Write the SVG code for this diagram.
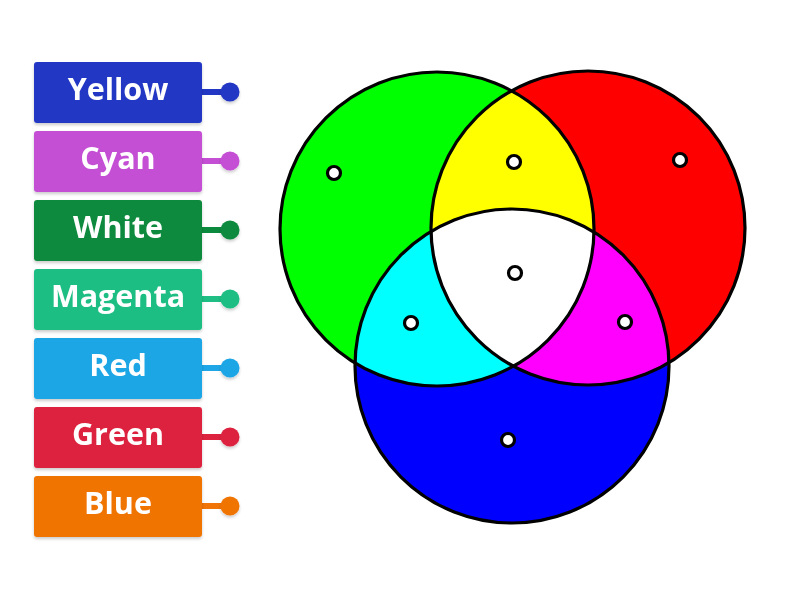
<svg xmlns="http://www.w3.org/2000/svg" width="800" height="600" viewBox="0 0 800 600">
<style>
.box{stroke:none}
.lbl{font-family:"Open Sans","Liberation Sans",sans-serif;font-weight:700;font-size:30.5px;fill:#ffffff;text-anchor:middle}
.ring{fill:none;stroke:#000;stroke-width:3.2}
.pin{fill:#fff;stroke:#000;stroke-width:3.2}
.conn line{stroke-width:6}
</style>
<defs>
<clipPath id="cg"><circle cx="437" cy="229" r="157"/></clipPath>
<clipPath id="cr"><circle cx="588" cy="228" r="157"/></clipPath>
<clipPath id="cb"><circle cx="512" cy="366" r="157"/></clipPath>
<filter id="sh" x="-10%" y="-10%" width="120%" height="130%"><feDropShadow dx="0" dy="2" stdDeviation="1.5" flood-color="#000" flood-opacity="0.2"/></filter>
</defs>
<rect width="800" height="600" fill="#fff"/>
<g id="venn">
<circle cx="437" cy="229" r="157" fill="#00ff00"/>
<circle cx="588" cy="228" r="157" fill="#ff0000"/>
<circle cx="512" cy="366" r="157" fill="#0000ff"/>
<g clip-path="url(#cg)"><circle cx="588" cy="228" r="157" fill="#ffff00"/><circle cx="512" cy="366" r="157" fill="#00ffff"/></g>
<g clip-path="url(#cr)"><circle cx="512" cy="366" r="157" fill="#ff00ff"/></g>
<g clip-path="url(#cg)"><g clip-path="url(#cr)"><circle cx="512" cy="366" r="157" fill="#ffffff"/></g></g>
<circle class="ring" cx="437" cy="229" r="157"/>
<circle class="ring" cx="588" cy="228" r="157"/>
<circle class="ring" cx="512" cy="366" r="157"/>
</g>
<g id="pins">
<circle class="pin" cx="334" cy="173" r="6.5"/>
<circle class="pin" cx="514" cy="162" r="6.5"/>
<circle class="pin" cx="680" cy="160" r="6.5"/>
<circle class="pin" cx="515" cy="273" r="6.5"/>
<circle class="pin" cx="411" cy="323" r="6.5"/>
<circle class="pin" cx="625" cy="322" r="6.5"/>
<circle class="pin" cx="508" cy="440" r="6.5"/>
</g>
<g id="connectors" class="conn">
<line x1="200" y1="92" x2="228" y2="92" stroke="#2237c4"/>
<line x1="200" y1="161" x2="228" y2="161" stroke="#c44fd4"/>
<line x1="200" y1="230" x2="228" y2="230" stroke="#0b8a3d"/>
<line x1="200" y1="299" x2="228" y2="299" stroke="#1fbe84"/>
<line x1="200" y1="368" x2="228" y2="368" stroke="#1ea6e6"/>
<line x1="200" y1="437" x2="228" y2="437" stroke="#dd2240"/>
<line x1="200" y1="506" x2="228" y2="506" stroke="#f07406"/>
</g>
<g id="label-yellow" filter="url(#sh)">
<rect class="box" x="34" y="62" width="168" height="61" rx="3" fill="#2237c4"/>
<circle cx="230" cy="92" r="9.5" fill="#2237c4"/>
<text class="lbl" x="118" y="100">Yellow</text>
</g>
<g id="label-cyan" filter="url(#sh)">
<rect class="box" x="34" y="131" width="168" height="61" rx="3" fill="#c44fd4"/>
<circle cx="230" cy="161" r="9.5" fill="#c44fd4"/>
<text class="lbl" x="118" y="169">Cyan</text>
</g>
<g id="label-white" filter="url(#sh)">
<rect class="box" x="34" y="200" width="168" height="61" rx="3" fill="#0b8a3d"/>
<circle cx="230" cy="230" r="9.5" fill="#0b8a3d"/>
<text class="lbl" x="118" y="238">White</text>
</g>
<g id="label-magenta" filter="url(#sh)">
<rect class="box" x="34" y="269" width="168" height="61" rx="3" fill="#1fbe84"/>
<circle cx="230" cy="299" r="9.5" fill="#1fbe84"/>
<text class="lbl" x="118" y="307">Magenta</text>
</g>
<g id="label-red" filter="url(#sh)">
<rect class="box" x="34" y="338" width="168" height="61" rx="3" fill="#1ea6e6"/>
<circle cx="230" cy="368" r="9.5" fill="#1ea6e6"/>
<text class="lbl" x="118" y="376">Red</text>
</g>
<g id="label-green" filter="url(#sh)">
<rect class="box" x="34" y="407" width="168" height="61" rx="3" fill="#dd2240"/>
<circle cx="230" cy="437" r="9.5" fill="#dd2240"/>
<text class="lbl" x="118" y="445">Green</text>
</g>
<g id="label-blue" filter="url(#sh)">
<rect class="box" x="34" y="476" width="168" height="61" rx="3" fill="#f07406"/>
<circle cx="230" cy="506" r="9.5" fill="#f07406"/>
<text class="lbl" x="118" y="514">Blue</text>
</g>
</svg>
